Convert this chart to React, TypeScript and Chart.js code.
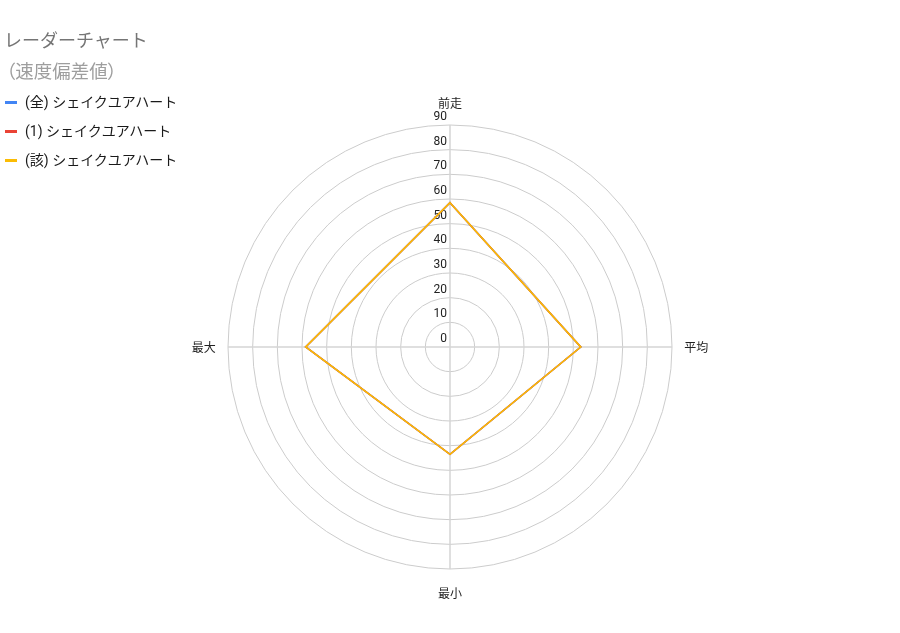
import React, { useEffect, useRef } from "react";
import { Chart, registerables } from "chart.js";

Chart.register(...registerables);

// ---- data ----
const categories = ["前走", "平均", "最小", "最大"];
const seriesNames = [
  "(全) シェイクユアハート",
  "(1) シェイクユアハート",
  "(該) シェイクユアハート",
];
const allRacesValues = [58.5, 53, 43.5, 58.5];
const firstPlaceValues = [58.5, 53, 43.5, 58.5];
const thisRaceValues = [58.5, 53, 43.5, 58.5];
const seriesColors = ["#4285f4", "#ea4335", "#fbbc04"];
const tickMin = 0;
const tickMax = 90;
const tickStep = 10;
const titleLines = ["レーダーチャート", "（速度偏差値）"];

const FONT_LATIN = "Roboto, 'Noto Sans CJK JP', sans-serif";
const FONT_CJK = "'Noto Sans CJK JP', Roboto, sans-serif";

const radarLabelPlugin = {
  id: "radarLabels",
  beforeDatasetsDraw(chart: any) {
    const s: any = chart.scales.r;
    const ctx: CanvasRenderingContext2D = chart.ctx;
    ctx.save();
    // tick labels: right-aligned, just left of the vertical axis, above each ring
    ctx.fillStyle = "#222222";
    ctx.font = `12px ${FONT_LATIN}`;
    ctx.textAlign = "right";
    ctx.textBaseline = "middle";
    s.ticks.forEach((t: any) => {
      const d = s.getDistanceFromCenterForValue(t.value);
      ctx.fillText(String(t.value), s.xCenter - 3, s.yCenter - d - 8);
    });
    // point labels
    ctx.font = `12px ${FONT_CJK}`;
    const labels: string[] = chart.data.labels;
    labels.forEach((lab, i) => {
      const angle = s.getIndexAngle(i);
      const sin = Math.sin(angle);
      const cos = Math.cos(angle);
      let pad = 12.3;
      let align: CanvasTextAlign = "center";
      if (Math.abs(cos) > 0.5) {
        pad = cos > 0 ? 21.5 : 24;
      } else {
        align = sin > 0 ? "left" : "right";
      }
      const p = s.getPointPosition(i, s.drawingArea + pad);
      ctx.textAlign = align;
      ctx.textBaseline = "middle";
      ctx.fillText(lab, p.x, p.y);
    });
    ctx.restore();
  },
};

function RadarChart() {
  const ref = useRef<HTMLCanvasElement | null>(null);
  useEffect(() => {
    if (!ref.current) return;
    const seriesValues = [allRacesValues, firstPlaceValues, thisRaceValues];
    const chart = new Chart(ref.current, {
      type: "radar",
      data: {
        labels: categories,
        datasets: seriesNames.map((name, i) => ({
          label: name,
          data: seriesValues[i],
          borderColor: seriesColors[i],
          backgroundColor: "transparent",
          borderWidth: 1.6,
          pointRadius: 0,
          pointHoverRadius: 0,
          fill: false,
          order: seriesNames.length - 1 - i,
        })),
      },
      options: {
        animation: false,
        responsive: false,
        maintainAspectRatio: false,
        layout: { padding: { top: 125, bottom: 64, left: 0, right: 0 } },
        plugins: {
          legend: { display: false },
          title: { display: false },
          tooltip: { enabled: false },
        },
        elements: { line: { tension: 0 } },
        scales: {
          r: {
            min: tickMin,
            max: tickMax,
            ticks: { stepSize: tickStep, display: false },
            grid: { circular: true, color: "#cccccc", lineWidth: 1 },
            angleLines: { color: "#d4d4d4", lineWidth: 1.5 },
            pointLabels: { display: false },
          },
        },
      },
      plugins: [radarLabelPlugin],
    } as any);
    return () => chart.destroy();
  }, []);
  return (
    <canvas
      ref={ref}
      width={900}
      height={633}
      style={{ position: "absolute", left: 0, top: 0, width: 900, height: 633 }}
    />
  );
}

export default function App() {
  return (
    <div style={{ position: "absolute", left: 0, top: 0, width: 900, height: 633, background: "#fff", overflow: "hidden" }}>
      <RadarChart />
      <div
        style={{
          position: "absolute",
          left: 4,
          top: 28,
          fontFamily: FONT_CJK,
          fontSize: 18,
          lineHeight: "22px",
          color: "#757575",
          whiteSpace: "nowrap",
        }}
      >
        {titleLines[0]}
      </div>
      <div
        style={{
          position: "absolute",
          left: 6,
          top: 59,
          fontFamily: FONT_CJK,
          fontSize: 18.5,
          lineHeight: "22px",
          color: "#9e9e9e",
          whiteSpace: "nowrap",
          fontFeatureSettings: '"palt"',
        }}
      >
        {titleLines[1]}
      </div>
      {seriesNames.map((name, i) => (
        <div
          key={name}
          style={{
            position: "absolute",
            left: 5,
            top: 92 + i * 29,
            height: 20,
            display: "flex",
            alignItems: "center",
            whiteSpace: "nowrap",
          }}
        >
          <span style={{ display: "inline-block", width: 12, height: 3, background: seriesColors[i], marginRight: 8 }} />
          <span style={{ fontFamily: FONT_LATIN, fontSize: 14, color: "#1a1a1a", lineHeight: "20px" }}>{name}</span>
        </div>
      ))}
    </div>
  );
}
